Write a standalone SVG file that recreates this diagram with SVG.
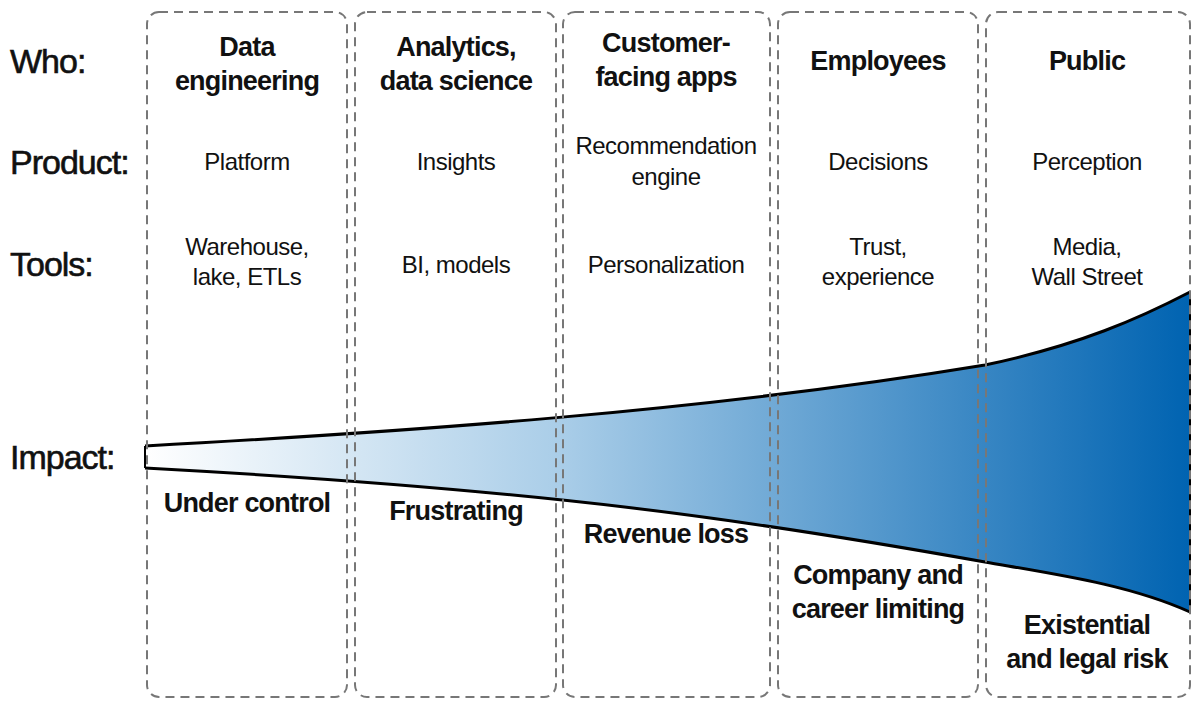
<svg xmlns="http://www.w3.org/2000/svg" width="1200" height="711" viewBox="0 0 1200 711">
<style>
.box{fill:none;stroke:#777;stroke-width:2;stroke-dasharray:9 6}
text{font-family:"Liberation Sans",Arial,sans-serif;fill:#111;text-anchor:middle}
.row{font-size:34px;text-anchor:start;letter-spacing:-1px;stroke:#111;stroke-width:0.6}
.h{font-size:27px;font-weight:bold;letter-spacing:-0.8px}
.t{font-size:24px;letter-spacing:-0.5px}
.i{font-size:27px;font-weight:bold;letter-spacing:-0.8px}
</style>
<defs>
<linearGradient id="g" x1="145" y1="0" x2="1190" y2="0" gradientUnits="userSpaceOnUse">
<stop offset="0" stop-color="#ffffff"/><stop offset="0.4" stop-color="#a9cde8"/><stop offset="1" stop-color="#0063b1"/>
</linearGradient>
</defs>
<g id="funnel">
<path d="M145,446 C400,432 700,412 985,365 C1080,345 1140,318 1190,292 L1190,612 C1130,585 1060,575 985,562 C750,520 550,490 145,468 Z" fill="url(#g)" stroke="none"/>
<path d="M145,446 C400,432 700,412 985,365 C1080,345 1140,318 1190,292" fill="none" stroke="#000" stroke-width="3"/>
<path d="M145,468 C550,490 750,520 985,562 C1060,575 1130,585 1190,612" fill="none" stroke="#000" stroke-width="3"/>
<path d="M145,446 L145,468" stroke="#000" stroke-width="2"/>
<path d="M1190,292 L1190,612" stroke="#000" stroke-width="2"/>
</g>
<g id="boxes">
<rect class="box" x="147" y="12" width="200" height="685" rx="12"/>
<rect class="box" x="355" y="12" width="201" height="685" rx="12"/>
<rect class="box" x="563" y="12" width="207" height="685" rx="12"/>
<rect class="box" x="778" y="12" width="200" height="685" rx="12"/>
<rect class="box" x="986" y="12" width="204" height="685" rx="12"/>
</g>
<g id="rows">
<text class="row" x="10" y="73">Who:</text>
<text class="row" x="10" y="174">Product:</text>
<text class="row" x="10" y="276">Tools:</text>
<text class="row" x="10" y="469">Impact:</text>
</g>
<g id="col1">
<text class="h" x="247" y="56">Data</text><text class="h" x="247" y="90">engineering</text>
<text class="t" x="247" y="170">Platform</text>
<text class="t" x="247" y="255">Warehouse,</text><text class="t" x="247" y="285">lake, ETLs</text>
<text class="i" x="247" y="512">Under control</text>
</g>
<g id="col2">
<text class="h" x="456" y="56">Analytics,</text><text class="h" x="456" y="90">data science</text>
<text class="t" x="456" y="170">Insights</text>
<text class="t" x="456" y="273">BI, models</text>
<text class="i" x="456" y="520">Frustrating</text>
</g>
<g id="col3">
<text class="h" x="666" y="52">Customer-</text><text class="h" x="666" y="86">facing apps</text>
<text class="t" x="666" y="154">Recommendation</text><text class="t" x="666" y="185">engine</text>
<text class="t" x="666" y="273">Personalization</text>
<text class="i" x="666" y="543">Revenue loss</text>
</g>
<g id="col4">
<text class="h" x="878" y="70">Employees</text>
<text class="t" x="878" y="170">Decisions</text>
<text class="t" x="878" y="255">Trust,</text><text class="t" x="878" y="285">experience</text>
<text class="i" x="878" y="584">Company and</text><text class="i" x="878" y="618">career limiting</text>
</g>
<g id="col5">
<text class="h" x="1087" y="70">Public</text>
<text class="t" x="1087" y="170">Perception</text>
<text class="t" x="1087" y="255">Media,</text><text class="t" x="1087" y="285">Wall Street</text>
<text class="i" x="1087" y="634">Existential</text><text class="i" x="1087" y="668">and legal risk</text>
</g>
</svg>
